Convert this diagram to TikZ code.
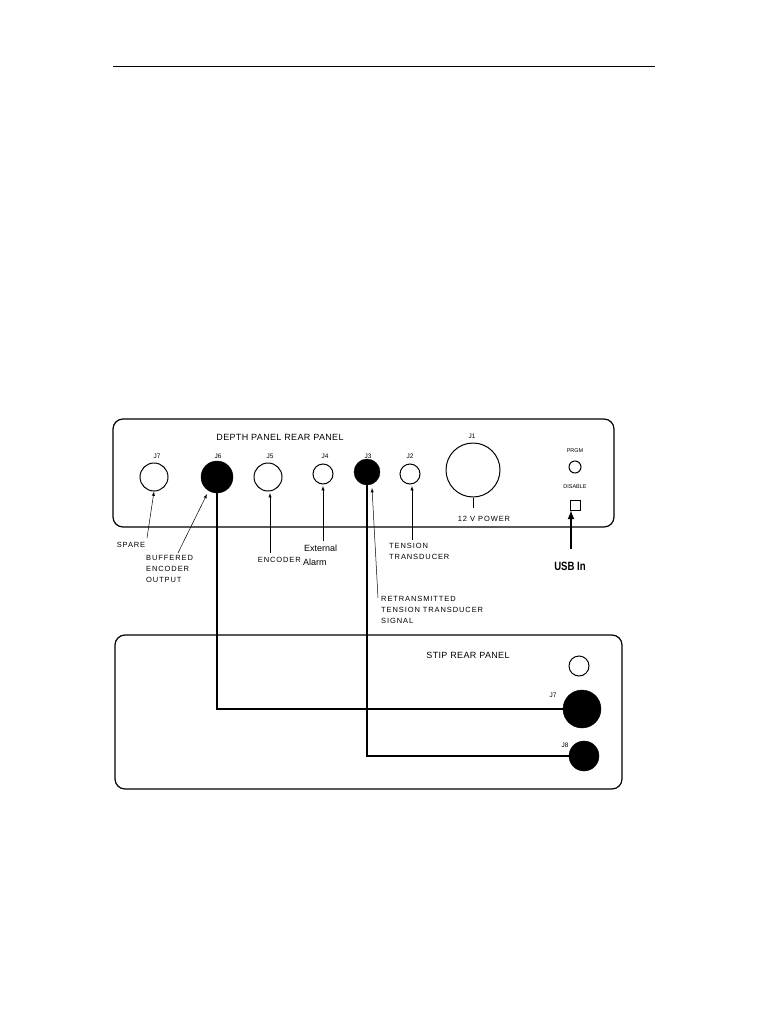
\documentclass[tikz,border=0pt]{standalone}
\usepackage{fontspec}
\setmainfont{Liberation Sans}
\begin{document}
\begin{tikzpicture}[x=1pt,y=-1pt,
  lbl/.style={font=\fontsize{7.5}{9}\selectfont\addfontfeature{LetterSpace=12},inner sep=0pt},
  small/.style={font=\fontsize{6.5}{7}\selectfont,inner sep=0pt},
  jack/.style={circle,draw,line width=1pt,inner sep=0pt},
  fjack/.style={circle,draw,fill=black,inner sep=0pt},
  ptr/.style={-latex,line width=0.5pt},
  cable/.style={line width=1.6pt}]
\useasboundingbox (0,0) rectangle (768,1024);
\draw[line width=0.6pt] (113,66) -- (655,66);
% depth panel
\draw[line width=1.2pt,rounded corners=10pt] (113,419) rectangle (614,527);
\node[lbl,font=\fontsize{9}{10}\selectfont\addfontfeature{LetterSpace=4}] (title) at (280,437) {DEPTH PANEL REAR PANEL};
\node[jack,minimum size=28pt] (dj7) at (154,477) {};
\node[fjack,minimum size=32pt] (dj6) at (217,477) {};
\node[jack,minimum size=28pt] (dj5) at (268,477) {};
\node[jack,minimum size=20pt] (dj4) at (323,474) {};
\node[fjack,minimum size=26pt] (dj3) at (367,472) {};
\node[jack,minimum size=20pt] (dj2) at (410,474) {};
\node[jack,minimum size=54pt] (dj1) at (473,470) {};
\foreach \n/\x/\y in {J7/157/456,J6/218/456,J5/270/456,J4/325/456,J3/368/456,J2/410/456,J1/472/436}
  \node[small] (l\n) at (\x,\y) {\n};
\node[small,font=\fontsize{5.5}{6}\selectfont] (prgm) at (575,451) {PRGM};
\node[jack,minimum size=12pt] (prgmc) at (575,467) {};
\node[small,font=\fontsize{5.5}{6}\selectfont] (dis) at (575,487) {DISABLE};
\node[draw,minimum size=10pt,inner sep=0pt,line width=0.6pt] (usb) at (575,505) {};
\node[lbl] (pow) at (484,519) {12 V POWER};
\draw (dj1.south) -- (473,508);
\coordinate (usbt) at (571,549);
\draw[-latex,line width=2pt] (usbt) -- (usb.south west -| usbt);
\node[font=\bfseries\fontsize{12}{13}\selectfont,xscale=0.8,inner sep=0pt] (usbl) at (570,566) {USB In};
% labels + pointers
\node[lbl] (spare) at (131,545) {SPARE};
\draw[ptr] (147,538) -- (dj7.south);
\node[lbl,align=left,anchor=north west] (buf) at (146,555) {BUFFERED\\[2pt]ENCODER\\[2pt]OUTPUT};
\draw[ptr] (178,553) -- (207,494);
\node[lbl,anchor=east] (enc) at (301,560) {ENCODER};
\draw[ptr] (270,553) -- (270,493);
\node[font=\fontsize{9}{10}\selectfont,inner sep=0pt,anchor=west] (ext) at (304,548) {External};
\node[font=\fontsize{9}{10}\selectfont,inner sep=0pt,anchor=west] (alarm) at (303,562) {Alarm};
\draw[ptr] (323,541) -- (323,486);
\node[lbl,align=left,anchor=north west] (ten) at (389,543) {TENSION\\[2pt]TRANSDUCER};
\draw[ptr] (412,540) -- (412,486);
\node[lbl,align=left,anchor=north west] (ret) at (381,596) {RETRANSMITTED\\[2pt]TENSION TRANSDUCER\\[2pt]SIGNAL};
\draw[ptr] (378,598) -- (372,488);
% stip panel
\draw[line width=1.2pt,rounded corners=10pt] (115,635) rectangle (622,789);
\node[lbl,font=\fontsize{9}{10}\selectfont\addfontfeature{LetterSpace=4}] (stitle) at (468,655) {STIP REAR PANEL};
\node[jack,minimum size=20pt] (sc) at (579,666) {};
\node[fjack,minimum size=38pt] (sj7) at (582,709) {};
\node[fjack,minimum size=30pt] (sj8) at (584,756) {};
\node[small] (lsj7) at (553,695) {J7};
\node[small] (lsj8) at (565,745) {J8};
% cables
\draw[cable] (dj6.center) |- (sj7.center);
\draw[cable] (dj3.center) |- (sj8.center);
\end{tikzpicture}
\end{document}
